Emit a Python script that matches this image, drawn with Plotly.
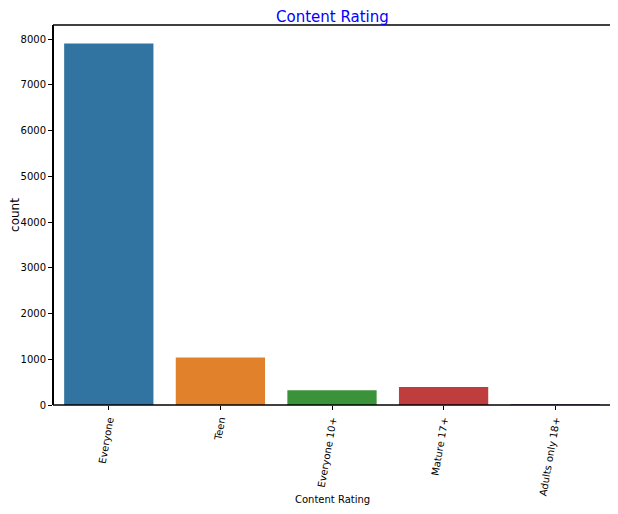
import plotly.graph_objects as go

# Content rating counts (seaborn countplot style)
categories = ['Everyone', 'Teen', 'Everyone 10+', 'Mature 17+', 'Adults only 18+']
counts = [7903, 1036, 322, 393, 3]
colors = ['#3274a1', '#e1812c', '#3a923a', '#c03d3e', '#9372b2']

fig = go.Figure(go.Bar(
    x=categories,
    y=counts,
    marker_color=colors,
    marker_line_width=0,
    width=0.8,
))

# page body has an 8px margin, so the figure is sized to fit inside it
fig.update_layout(
    width=610, height=506,
    margin=dict(l=45, r=7, t=17, b=109, autoexpand=False),
    font=dict(family='DejaVu Sans', size=10, color='black'),
    plot_bgcolor='white',
    paper_bgcolor='white',
    showlegend=False,
)

# title and x-axis label as annotations so they don't move the plot area
fig.add_annotation(text='Content Rating', x=0.5, y=1, xref='paper', yref='paper',
                   xanchor='center', yanchor='bottom', yshift=-3, showarrow=False,
                   font=dict(color='blue', size=15))
fig.add_annotation(text='Content Rating', x=0.5, y=0, xref='paper', yref='paper',
                   xanchor='center', yanchor='top', yshift=-87, showarrow=False,
                   font=dict(size=10))

# axes frame: four separate edges drawn on top
for x0, y0, x1, y1, w in [(0, 0, 1, 0, 1.3), (0, 1, 1, 1, 1.3), (0, 0, 0, 1, 2), (1, 0, 1, 1, 2)]:
    fig.add_shape(type='line', xref='paper', yref='paper', x0=x0, y0=y0, x1=x1, y1=y1,
                  line=dict(color='black', width=w), layer='above')

fig.update_xaxes(
    tickangle=-80, range=[-0.5, 4.5], automargin=False,
    ticks='outside', ticklen=4, tickcolor='black', showgrid=False,
    tickfont=dict(size=10),
)
fig.update_yaxes(
    title_text='count', title_standoff=6, range=[0, 8306], dtick=1000, automargin=False,
    ticks='outside', ticklen=4, tickcolor='black', showgrid=False,
    zeroline=False, tickfont=dict(size=10),
)

fig.write_html("out.html")
